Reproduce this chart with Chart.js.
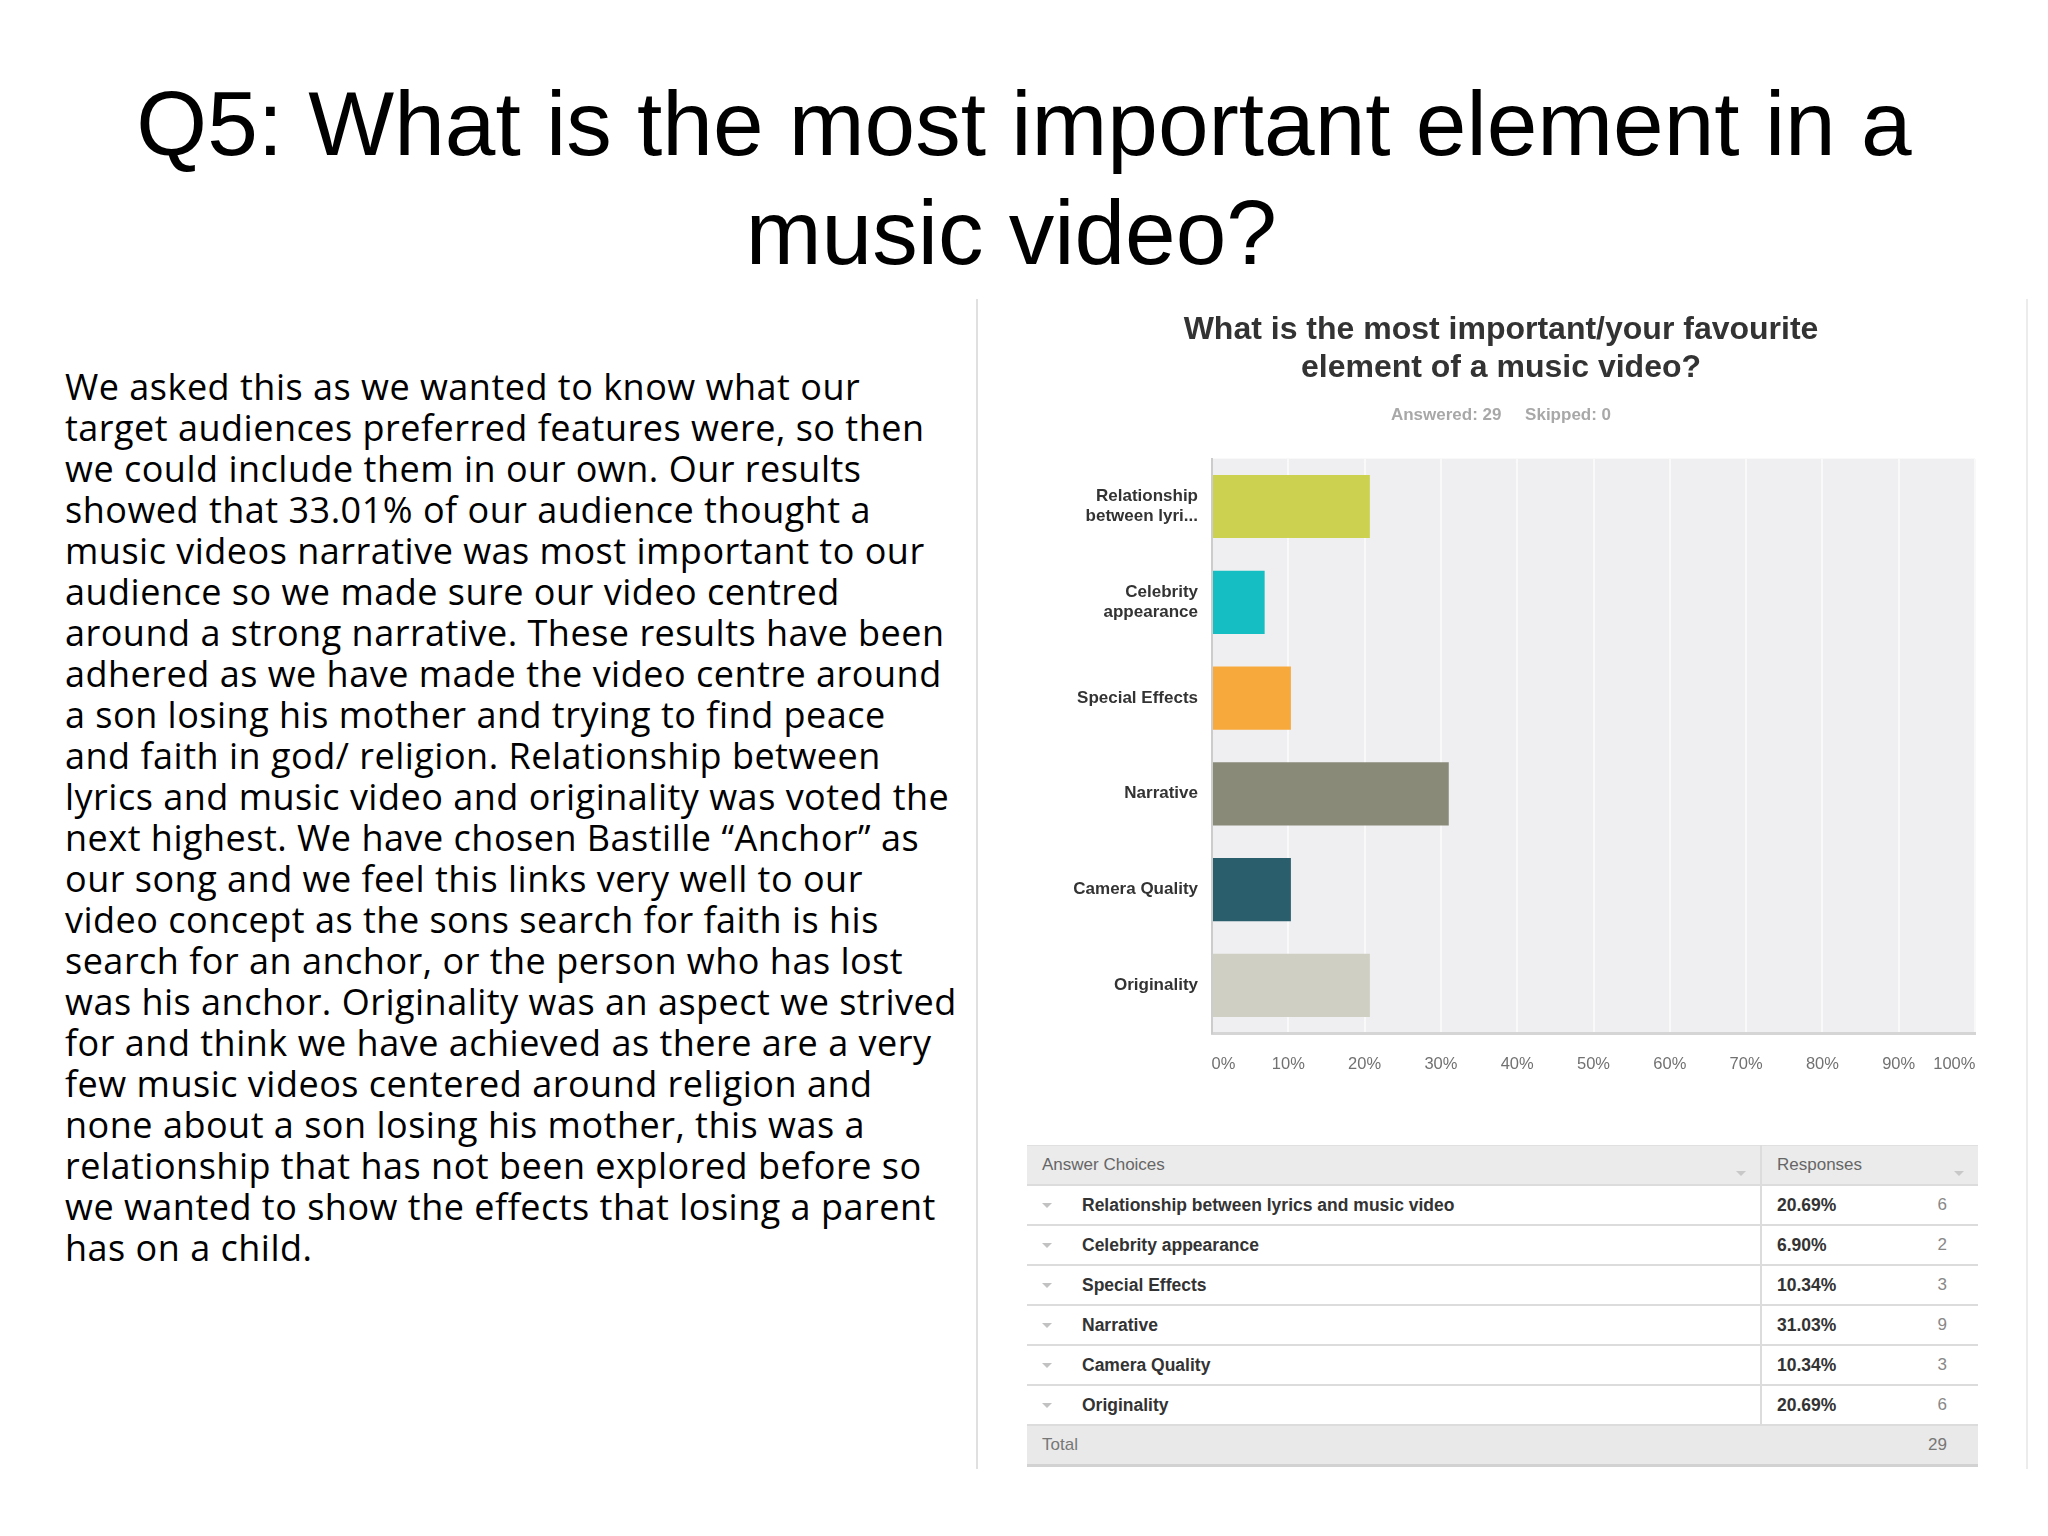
<!DOCTYPE html>
<html>
<head>
<meta charset="utf-8">
<title>Q5 music video</title>
<script src="https://cdn.jsdelivr.net/npm/chart.js@4.4.0/dist/chart.umd.min.js"></script>
<style>
  body { margin: 0; width: 2048px; height: 1536px; background: #fff; position: relative; overflow: hidden; }
  #title { position: absolute; left: 0; top: 69px; width: 2048px; text-align: center;
    font-family: "Liberation Sans", Arial, sans-serif; font-size: 91px; line-height: 109px; color: #000; }
  #body { position: absolute; left: 65px; top: 366px; margin: 0;
    font-family: "Open Sans", Lato, sans-serif; font-size: 36px; letter-spacing: 0.5px; line-height: 41px; white-space: pre; color: #000; }
  .vline { position: absolute; top: 299px; height: 1170px; width: 2px; }
  #chartBox { position: absolute; left: 1027px; top: 300px; width: 950px; height: 802px; }
  #resTable { position: absolute; left: 1027px; top: 1145px; width: 951px; border-collapse: collapse; table-layout: fixed;
    font-family: "Liberation Sans", Arial, sans-serif; }
  #resTable td, #resTable th { height: 38px; padding: 0; border-bottom: 2px solid #dcdcdc; white-space: nowrap; }
  #resTable th { background: #ebebeb; color: #666; font-weight: normal; font-size: 17px; text-align: left; border-top: 1px solid #e0e0e0; }
  #resTable td { font-size: 17.5px; }
  .choice { color: #333; font-weight: bold; padding-left: 15px !important; border-right: 2px solid #dcdcdc; }
  .pct { color: #333; font-weight: bold; padding-left: 15px !important; }
  .cnt { color: #888; text-align: right; padding-right: 31px !important; font-size: 17px !important; }
  .tri { display: inline-block; width: 0; height: 0; border-left: 5px solid transparent; border-right: 5px solid transparent;
    border-top: 5px solid #c2c2c2; vertical-align: middle; margin-right: 30px; }
  .htri { float: right; margin: 16px 14px 0 0; width: 0; height: 0; border-left: 5px solid transparent; border-right: 5px solid transparent;
    border-top: 5px solid #c8c8c8; }
  #resTable tr.total td { background: #e9e9e9; color: #777; font-weight: normal; font-size: 17px; border-bottom: 3px solid #d2d2d2; }
</style>
</head>
<body>
<div id="title">Q5: What is the most important element in a<br>music video?&nbsp;</div>
<pre id="body">We asked this as we wanted to know what our
target audiences preferred features were, so then
we could include them in our own. Our results
showed that 33.01% of our audience thought a
music videos narrative was most important to our
audience so we made sure our video centred
around a strong narrative. These results have been
adhered as we have made the video centre around
a son losing his mother and trying to find peace
and faith in god/ religion. Relationship between
lyrics and music video and originality was voted the
next highest. We have chosen Bastille “Anchor” as
our song and we feel this links very well to our
video concept as the sons search for faith is his
search for an anchor, or the person who has lost
was his anchor. Originality was an aspect we strived
for and think we have achieved as there are a very
few music videos centered around religion and
none about a son losing his mother, this was a
relationship that has not been explored before so
we wanted to show the effects that losing a parent
has on a child.</pre>

<div class="vline" style="left:976px; background:#e0e0e0;"></div>
<div class="vline" style="left:2026px; background:#ececec;"></div>

<div id="chartBox"><canvas id="myChart"></canvas></div>
<table id="resTable"></table>

<script>
// survey answers
const barLabels = [['Relationship', 'between lyri...'], ['Celebrity', 'appearance'], 'Special Effects', 'Narrative', 'Camera Quality', 'Originality'];
const choices = ['Relationship between lyrics and music video', 'Celebrity appearance', 'Special Effects', 'Narrative', 'Camera Quality', 'Originality'];
const percents = [20.69, 6.90, 10.34, 31.03, 10.34, 20.69];
const counts = [6, 2, 3, 9, 3, 6];
const answered = 29;
const skipped = 0;
const barColors = ['#ccd24f', '#15bec3', '#f7a93c', '#8a8a79', '#2b5e6c', '#cfcfc4'];
const tickLabels = ['0%', '10%', '20%', '30%', '40%', '50%', '60%', '70%', '80%', '90%', '100%'];

// grey box behind the bars
const plotBg = {
  id: 'plotBg',
  beforeDraw(chart) {
    const {ctx, chartArea: a} = chart;
    ctx.save();
    ctx.fillStyle = '#efeff1';
    ctx.fillRect(a.left, a.top, a.right - a.left, a.bottom - a.top);
    ctx.restore();
  }
};

const ctx = document.getElementById('myChart').getContext('2d');
const myChart = new Chart(ctx, {
  type: 'bar',
  data: {
    labels: barLabels,
    datasets: [{
      data: percents,
      backgroundColor: barColors,
      borderWidth: 0,
      barPercentage: 0.66,
      categoryPercentage: 1.0
    }]
  },
  options: {
    indexAxis: 'y',
    responsive: true,
    maintainAspectRatio: false,
    animation: false,
    layout: { padding: { top: 0, right: 2, bottom: 7, left: 0 } },
    plugins: {
      legend: { display: false },
      tooltip: { enabled: false },
      title: {
        display: true,
        text: ['What is the most important/your favourite', 'element of a music video?'],
        color: '#333',
        font: { family: 'Liberation Sans', size: 32, weight: 'bold', lineHeight: 1.16 },
        padding: { top: 12, bottom: 19 }
      },
      subtitle: {
        display: true,
        text: 'Answered: ' + answered + '     Skipped: ' + skipped,
        color: '#a8a8a8',
        font: { family: 'Liberation Sans', size: 17, weight: 'bold' },
        padding: { top: 0, bottom: 33 }
      }
    },
    scales: {
      x: {
        min: 0,
        max: 100,
        ticks: {
          stepSize: 10,
          autoSkip: false,
          maxRotation: 0,
          minRotation: 0,
          color: '#717171',
          padding: 21,
          font: { family: 'Liberation Sans', size: 16.5 },
          // first label sits on the left edge, last one on the right edge
          callback: function(value, index) {
            const t = tickLabels[index];
            if (index === 0) return '     ' + t;
            if (index === tickLabels.length - 1) return t + '         ';
            return t;
          }
        },
        grid: {
          drawTicks: false,
          lineWidth: 2,
          color: c => c.index === 0 ? 'rgba(0,0,0,0)' : '#f9f9fa'
        },
        border: { display: true, color: '#d5d5d5', width: 3 },
        afterFit: function(scale) { scale.paddingLeft = 0; scale.paddingRight = 0; }
      },
      y: {
        ticks: {
          color: '#333',
          padding: 14,
          font: { family: 'Liberation Sans', size: 17, weight: 'bold', lineHeight: 1.15 }
        },
        grid: { display: false, drawTicks: false },
        border: { display: true, color: '#cccccc', width: 2 },
        afterFit: function(scale) { scale.width = 185; }
      }
    }
  },
  plugins: [plotBg]
});

// answer table under the chart
const table = document.getElementById('resTable');
let html = '<colgroup><col style="width:734px"><col style="width:120px"><col style="width:97px"></colgroup>';
html += '<tr><th style="padding-left:15px;border-right:2px solid #dcdcdc">Answer Choices<span class="htri"></span></th>' +
        '<th colspan="2" style="padding-left:15px">Responses<span class="htri"></span></th></tr>';
choices.forEach((c, i) => {
  html += '<tr><td class="choice"><span class="tri"></span>' + c + '</td>' +
          '<td class="pct">' + percents[i].toFixed(2) + '%</td>' +
          '<td class="cnt">' + counts[i] + '</td></tr>';
});
html += '<tr class="total"><td colspan="2" style="padding-left:15px">Total</td><td class="cnt">' + answered + '</td></tr>';
table.innerHTML = html;
</script>
</body>
</html>
